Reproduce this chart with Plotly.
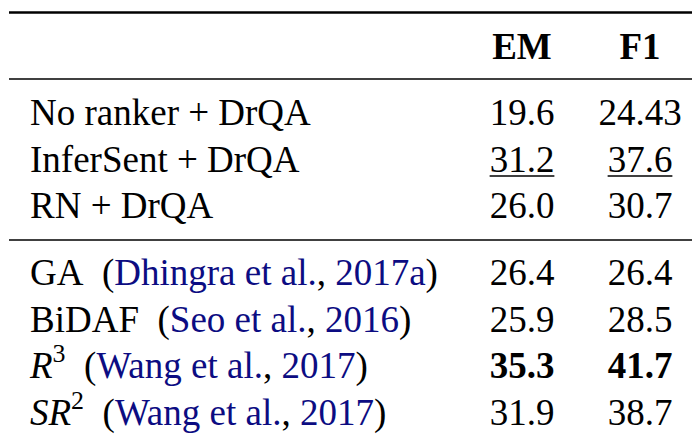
import plotly.graph_objects as go

# ---- data ----
models = ["No ranker + DrQA", "InferSent + DrQA", "RN + DrQA", "GA", "BiDAF",
          "<i>R</i><sup>3</sup>", "<i>SR</i><sup>2</sup>"]
cite_authors = ["", "", "", "Dhingra et al.", "Seo et al.", "Wang et al.", "Wang et al."]
cite_years = ["", "", "", "2017a", "2016", "2017", "2017"]
groups = [0, 0, 0, 1, 1, 1, 1]
em = [19.6, 31.2, 26.0, 26.4, 25.9, 35.3, 31.9]
f1 = [24.43, 37.6, 30.7, 26.4, 28.5, 41.7, 38.7]
headers = ["EM", "F1"]

# ---- layout constants ----
W, H = 700, 443
FONT = "Liberation Serif"
FS = 37
CITE_COLOR = "#0c0c82"
LABEL_X = 22
COL_X = [514, 632]
HEADER_BASE = 49
FIRST_ROW_BASE = 115
PITCH = 46.5
GROUP_EXTRA = 20.5
RULE_X = (1, 698)
TEXT_DY = 0.25 * FS - 2  # baseline offset for 'middle' text positions

bases = [FIRST_ROW_BASE + i * PITCH + g * GROUP_EXTRA for i, g in enumerate(groups)]
ty = lambda b: b - TEXT_DY

def label_text(i):
    s = models[i]
    if cite_authors[i]:
        s += ("\u00a0\u00a0(<span style='color:%s'>%s</span>, "
              "<span style='color:%s'>%s</span>)") % (CITE_COLOR, cite_authors[i],
                                                      CITE_COLOR, cite_years[i])
    return s

fig = go.Figure()

# row labels
fig.add_trace(go.Scatter(
    x=[LABEL_X] * len(models), y=[ty(b) for b in bases],
    mode="text", text=[label_text(i) for i in range(len(models))],
    textposition="middle right", textfont=dict(family=FONT, size=FS, color="black"),
    hoverinfo="skip", cliponaxis=False))

shapes = []
for ci, col in enumerate([em, f1]):
    best = max(range(len(col)), key=lambda k: col[k])
    g0 = [k for k in range(len(col)) if groups[k] == 0]
    best_g0 = max(g0, key=lambda k: col[k])
    texts = []
    for k, v in enumerate(col):
        s = str(v)
        texts.append("<b>%s</b>" % s if k == best else s)
        if k == best_g0:
            w = FS * (0.5 * sum(c.isdigit() for c in s) + 0.25 * s.count("."))
            shapes.append(dict(type="line", xref="x", yref="y",
                               x0=COL_X[ci] - w / 2, x1=COL_X[ci] + w / 2,
                               y0=bases[k] + 6.5, y1=bases[k] + 6.5,
                               line=dict(color="black", width=1.3)))
    fig.add_trace(go.Scatter(
        x=[COL_X[ci]] * len(col), y=[ty(b) for b in bases],
        mode="text", text=texts, textposition="middle center",
        textfont=dict(family=FONT, size=FS, color="black"),
        hoverinfo="skip", cliponaxis=False))

# header
fig.add_trace(go.Scatter(
    x=COL_X, y=[ty(HEADER_BASE)] * 2, mode="text",
    text=["<b>%s</b>" % h for h in headers], textposition="middle center",
    textfont=dict(family=FONT, size=FS, color="black"),
    hoverinfo="skip", cliponaxis=False))

# booktabs-style rules
mid1 = HEADER_BASE + 22
mid2 = bases[groups.index(1) - 1] + 24
rules = [(4.5, 2.6), (mid1, 1.3), (mid2, 1.3), (bases[-1] + 24.5, 2.6)]
for y, lw in rules:
    shapes.append(dict(type="line", xref="x", yref="y", x0=RULE_X[0], x1=RULE_X[1],
                       y0=y, y1=y, line=dict(color="black", width=lw)))

fig.update_layout(
    width=W, height=H, margin=dict(l=0, r=0, t=0, b=0),
    paper_bgcolor="white", plot_bgcolor="white", showlegend=False,
    xaxis=dict(range=[0, W], visible=False, fixedrange=True),
    yaxis=dict(range=[H, 0], visible=False, fixedrange=True),
    shapes=shapes)

fig.write_html("out.html")
